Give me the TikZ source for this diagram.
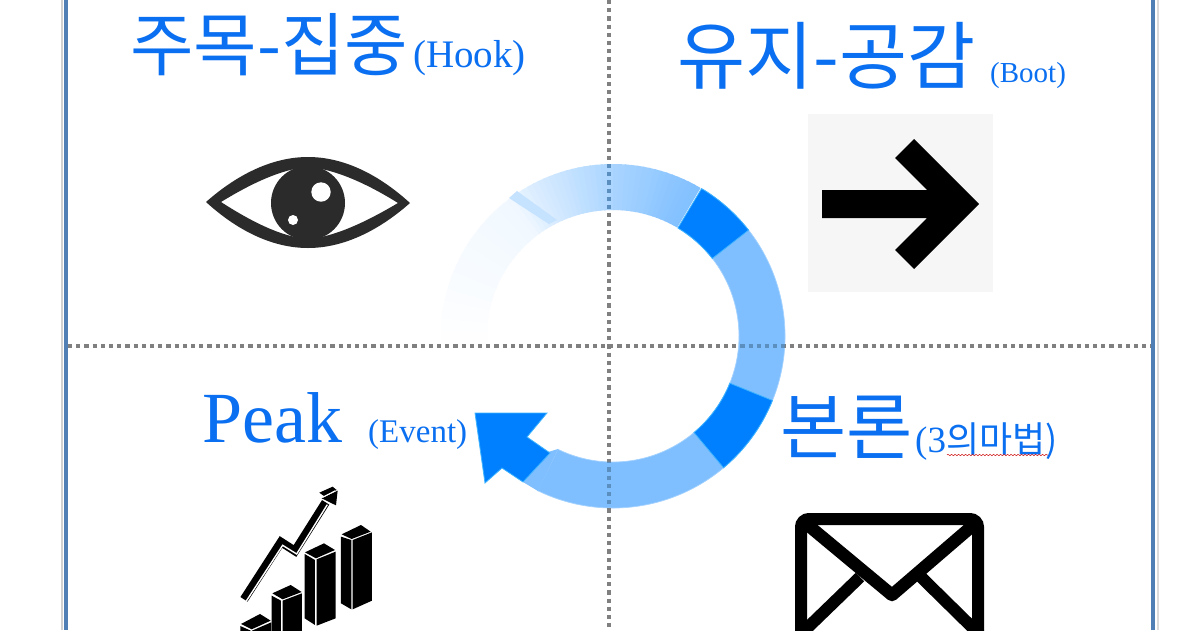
\documentclass[tikz,border=0pt]{standalone}
\usepackage{fontspec}
\setmainfont{Liberation Serif}
\newfontfamily\krfont{Noto Sans CJK KR}
\usetikzlibrary{decorations.pathmorphing}
\definecolor{ttl}{HTML}{0A6FF0}
\definecolor{ringl}{HTML}{7FBFFF}
\definecolor{ringd}{HTML}{0080FF}
\definecolor{ringe}{HTML}{3FB4FF}
\definecolor{frameb}{HTML}{4F7FB5}
\definecolor{dotg}{HTML}{808080}
\definecolor{dotb}{HTML}{5A8FC0}
\definecolor{eyeg}{HTML}{2B2B2B}
\newcommand{\sector}[3]{% style, from, to
  \path[#1] (#2:172) arc[start angle=#2,end angle=#3,radius=172] -- (#3:126) arc[start angle=#3,end angle=#2,radius=126] -- cycle;}
\tikzset{
  dotline/.style={line width=3.6pt,dash pattern=on 4.2pt off 4pt},
  bigtitle/.style={text=ttl,inner sep=0pt,anchor=base west},
  latintitle/.style={text=ttl,inner sep=0pt,anchor=base west},
}
\begin{document}
\begin{tikzpicture}[x=1pt,y=-1pt]
\useasboundingbox (0,0) rectangle (1200,630);
\fill[white] (0,0) rectangle (1200,630);
% frame
\coordinate (fl0) at (62,0); \coordinate (fl1) at (62,630);
\coordinate (fr0) at (1157.5,0); \coordinate (fr1) at (1157.5,630);
\draw[black!18,line width=2pt] (fl0) -- (fl1);
\draw[black!14,line width=2pt] (fr0) -- (fr1);
\coordinate (bl0) at (66,0); \coordinate (bl1) at (66,630);
\coordinate (br0) at (1153,0); \coordinate (br1) at (1153,630);
\draw[frameb,line width=4pt] (bl0) -- (bl1);
\draw[frameb,line width=4pt] (br0) -- (br1);
% ring: fading part, faintest first
\begin{scope}[shift={(613,336)}]
\foreach \a in {-190,-188,...,-62}{
  \pgfmathtruncatemacro{\p}{\a>-90 ? 100-(-60-\a)*32/30 : (\a>-120 ? 68-(-90-\a)*40/30 : (\a>-128 ? 28-(-120-\a)*2 : 12-(-128-\a)*12/62))}
  \pgfmathsetmacro{\b}{\a+2.6}
  \colorlet{segc}{ringl!\p!white}
  \sector{fill=segc}{\a}{\b}
}
\sector{fill=ringl,draw=ringl!70!white,line width=.7pt}{-58}{116}
\end{scope}
\fill[ringl] (558,449) -- (545,453) -- (523,482) -- (538,491) -- cycle;
\fill[ringl!45!white] (517,191) -- (557,220) -- (549,224) -- (509,198) -- cycle;
% grid
\coordinate (hl) at (68,346); \coordinate (hr) at (1151,346);
\coordinate (vt) at (609,0); \coordinate (vb) at (609,630);
\draw[dotline,dotg] (hl) -- (hr);
\draw[dotline,dotg] (vt) -- (vb);
\begin{scope}[even odd rule]
\clip (560,0) rectangle (1200,630);
\clip (613,336) circle[radius=172] (613,336) circle[radius=126];
\draw[dotline,dotb] (hl) -- (hr);
\draw[dotline,dotb] (vt) -- (vb);
\end{scope}
% dark blocks and head
\begin{scope}[shift={(613,336)}]
\sector{fill=ringd,draw=ringe,line width=.8pt}{-59}{-38}
\sector{fill=ringd,draw=ringe,line width=.8pt}{22}{50}
\end{scope}
\path[fill=ringd,draw=ringe,line width=.8pt] (475,413) -- (547,413) -- (527,437) -- (550,453) -- (523,482) -- (502,468) -- (485,483) -- cycle;
% titles
\node[bigtitle,font=\krfont\fontsize{69}{69}\selectfont] (t1) at (130,70) {주목-집중};
\node[latintitle,font=\fontsize{39}{39}\selectfont] (t1b) at (413,67) {(Hook)};
\node[bigtitle,font=\krfont\fontsize{74}{74}\selectfont] (t2) at (677,83) {유지-공감};
\node[latintitle,font=\fontsize{29}{29}\selectfont] (t2b) at (990,82) {(Boot)};
\node[latintitle,font=\fontsize{72}{72}\selectfont] (t3) at (202,442) {Peak};
\node[latintitle,font=\fontsize{33}{33}\selectfont] (t3b) at (368,442) {(Event)};
\node[bigtitle,font=\krfont\fontsize{72}{72}\selectfont] (t4) at (780,453) {본론};
\node[latintitle,font=\fontsize{37}{37}\selectfont] (t4b) at (915,452) {(3\krfont\fontsize{36}{36}\selectfont 의마법)};
\draw[red!80!black,line width=.5pt,decorate,decoration={snake,amplitude=.7pt,segment length=3.5pt}] (947,455) -- (1048,455);
% eye
\fill[eyeg,even odd rule] (206,202) .. controls (240,172) and (275,157) .. (308,157) .. controls (341,157) and (376,172) .. (410,203) .. controls (376,233) and (341,248) .. (308,248) .. controls (275,248) and (240,233) .. (206,202) -- cycle
 (221,202) .. controls (252,183) and (282,169) .. (308,167) .. controls (334,169) and (366,183) .. (398,203) .. controls (366,222) and (334,237) .. (308,239) .. controls (282,237) and (252,222) .. (221,202) -- cycle;
\fill[eyeg] (308,203) circle[radius=37];
\fill[white] (321,192) circle[radius=9.7];
\fill[white] (293,220) circle[radius=5];
% black arrow
\fill[black!3.5] (808,114) rectangle (993,292);
\fill[black] (822,190) -- (927,190) -- (895,158) -- (914,139) -- (979,204) -- (914,269) -- (895,250) -- (927,218) -- (822,218) -- cycle;
% chart
\begin{scope}[shift={(180,470)},x=.3333pt,y=-.3333pt]
\fill (485,193) -- (543,165) -- (572,185) -- (515,207) -- cycle;
\fill (483,200) -- (514,210) -- (514,418) -- (483,400) -- cycle;
\fill (518,210) -- (576,187) -- (576,392) -- (518,418) -- cycle;
\fill (375,247) -- (432,220) -- (465,240) -- (408,265) -- cycle;
\fill (374,252) -- (405,270) -- (405,465) -- (374,445) -- cycle;
\fill (410,268) -- (467,245) -- (467,445) -- (410,467) -- cycle;
\fill (277,370) -- (332,345) -- (365,366) -- (308,388) -- cycle;
\fill (275,377) -- (303,392) -- (303,500) -- (275,500) -- cycle;
\fill (308,392) -- (366,370) -- (366,500) -- (308,500) -- cycle;
\fill (183,462) -- (240,432) -- (272,452) -- (215,478) -- cycle;
\fill (181,468) -- (212,482) -- (212,500) -- (181,500) -- cycle;
\fill (216,482) -- (274,457) -- (274,500) -- (216,500) -- cycle;
\draw[black,line width=8.5pt,miter limit=4] (192,388) -- (303,216) -- (345,243) -- (437,97);
\draw[white,line width=1.4pt] (199,393) -- (308,226) -- (350,252) -- (442,104);
\fill (473,62) -- (468,106) -- (425,85) -- cycle;
\fill (418,68) -- (458,50) -- (470,60) -- (432,78) -- cycle;
\draw[white,line width=1pt] (428,82) -- (466,62);
\end{scope}
% envelope
\draw[black,line width=12pt,rounded corners=8pt] (801,650) -- (801,519) -- (978,519) -- (978,650);
\draw[black,line width=12.5pt,line join=round] (803,521) -- (892,595) -- (978,521);
\draw[black,line width=12pt] (860,577) -- (800,635);
\draw[black,line width=12pt] (921,577) -- (980,635);
\end{tikzpicture}
\end{document}
